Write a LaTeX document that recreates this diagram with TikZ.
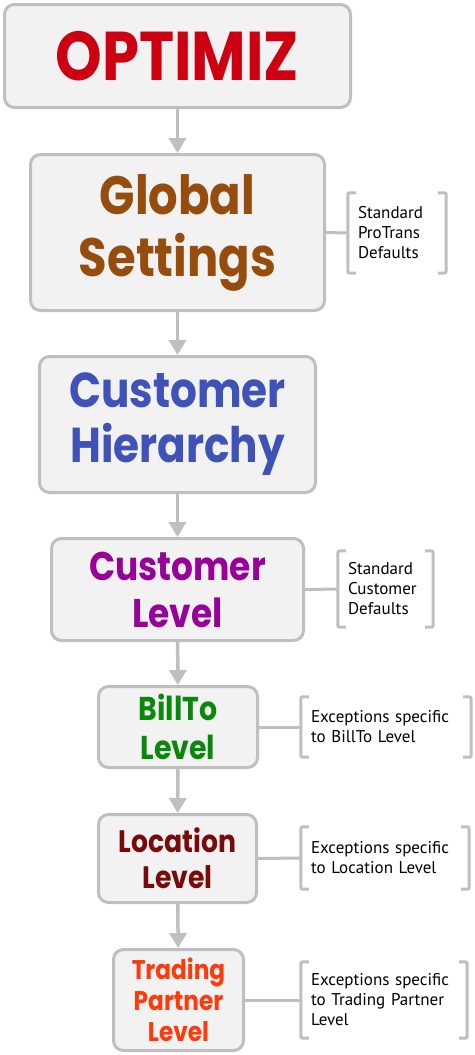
\documentclass[tikz,border=0pt]{standalone}
\usepackage{fontspec}
\setmainfont{PT Sans}
\newfontfamily\gothic{Poppins}[FakeStretch=0.86]
\usetikzlibrary{arrows.meta}
\definecolor{boxfill}{HTML}{F2F2F2}
\definecolor{linegray}{HTML}{BFBFBF}
\definecolor{optred}{HTML}{CC0010}
\definecolor{globbrown}{HTML}{964C0C}
\definecolor{hierblue}{HTML}{3F52B8}
\definecolor{custpurple}{HTML}{990099}
\definecolor{billgreen}{HTML}{0A880A}
\definecolor{locred}{HTML}{7A0A0A}
\definecolor{tradorange}{HTML}{FF3A0A}

\begin{document}
\begin{tikzpicture}[x=1pt,y=-1pt,
		level/.style={draw=linegray,fill=boxfill,line width=3pt,rounded corners=10pt,align=center,inner sep=0pt},
		flow/.style={draw=linegray,line width=3.5pt,-{Triangle[width=17pt,length=15pt]}},
		tie/.style={draw=linegray,line width=3pt},
		note/.style={align=left,inner xsep=10pt,inner ysep=0pt,font=\fontsize{17}{20}\selectfont},
		bracket/.style={draw=linegray,line width=3pt,rounded corners=2pt}]
	\useasboundingbox (0,0) rectangle (474,1055);
	% levels
	\node[level,minimum width=346,minimum height=103,text=optred,font=\gothic\bfseries\fontsize{69}{79}\selectfont] (optimiz) at (177.5,56) {OPTIMIZ};
	\node[level,minimum width=294,minimum height=156,text=globbrown,font=\gothic\bfseries\fontsize{54}{62}\selectfont] (global) at (177.5,232.5) {Global\\Settings};
	\node[level,minimum width=276,minimum height=136,text=hierblue,font=\gothic\bfseries\fontsize{49}{55}\selectfont] (hier) at (177.5,424.5) {Customer\\Hierarchy};
	\node[level,minimum width=252,minimum height=102,text=custpurple,font=\gothic\bfseries\fontsize{40}{47}\selectfont] (cust) at (177.5,589.5) {Customer\\Level};
	\node[level,minimum width=159,minimum height=81,text=billgreen,font=\gothic\bfseries\fontsize{33}{39}\selectfont] (billto) at (178,727) {BillTo\\Level};
	\node[level,minimum width=158,minimum height=88,text=locred,font=\gothic\bfseries\fontsize{31}{36}\selectfont] (loc) at (177.5,858.5) {Location\\Level};
	\node[level,minimum width=130,minimum height=101,text=tradorange,font=\gothic\bfseries\fontsize{27}{31}\selectfont] (trad) at (178.5,1000) {Trading\\Partner\\Level};
	% notes
	\node[note,text width=78,minimum height=80] (globnote) at (397,233) {Standard\\ProTrans\\Defaults};
	\node[note,text width=75,minimum height=76] (custnote) at (385.5,589) {Standard\\Customer\\Defaults};
	\node[note,text width=150,minimum height=60] (billnote) at (386,727) {Exceptions specific\\to BillTo Level};
	\node[note,text width=148,minimum height=62] (locnote) at (385,858) {Exceptions specific\\to Location Level};
	\node[note,text width=146,minimum height=76] (tradnote) at (384,1000) {Exceptions specific\\to Trading Partner\\Level};
	\foreach \n in {globnote,custnote,billnote,locnote,tradnote}{
		\draw[bracket] ([xshift=8pt]\n.north west) -- (\n.north west) -- (\n.south west) -- ([xshift=8pt]\n.south west);
		\draw[bracket] ([xshift=-8pt]\n.north east) -- (\n.north east) -- (\n.south east) -- ([xshift=-8pt]\n.south east);
	}
	% connectors
	\draw[flow] (optimiz) -- (global);
	\draw[flow] (global) -- (hier);
	\draw[flow] (hier) -- (cust);
	\draw[flow] (cust) -- (billto);
	\draw[flow] (billto) -- (loc);
	\draw[flow] (loc) -- (trad);
	\draw[tie] (global.east) -- (globnote.west);
	\draw[tie] (cust.east) -- (custnote.west);
	\draw[tie] (billto.east) -- (billnote.west);
	\draw[tie] (loc.east) -- (locnote.west);
	\draw[tie] (trad.east) -- (tradnote.west);
\end{tikzpicture}
\end{document}
